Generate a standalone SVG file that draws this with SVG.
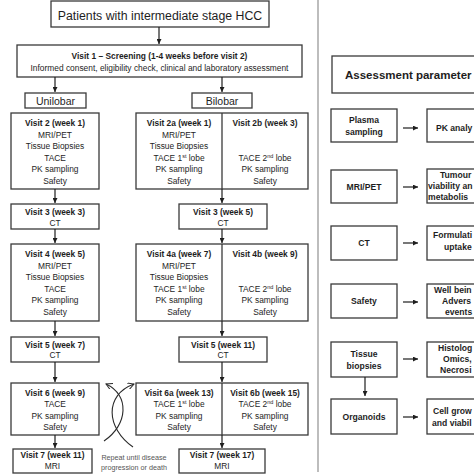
<svg xmlns="http://www.w3.org/2000/svg" width="474" height="474" viewBox="0 0 474 474">
<defs>
<style>
.box{fill:#fff;stroke:#3a3a3a;stroke-width:1.3}
.div{stroke:#3a3a3a;stroke-width:1.3}
.t{font-family:"Liberation Sans",Arial,sans-serif;font-size:8.4px;fill:#1e1e1e;text-anchor:middle}
.b{font-weight:bold}
.s{text-anchor:start}
.rp{font-size:8.6px;font-weight:bold}
.conn{stroke:#1e1e1e;stroke-width:1.2;fill:none}
.curve{stroke:#2a2a2a;stroke-width:1.1;fill:none}
</style>
<marker id="ah" viewBox="0 0 10 10" refX="10" refY="5" markerWidth="5" markerHeight="5" orient="auto" markerUnits="userSpaceOnUse">
<path d="M0,0 L10,5 L0,10 z" fill="#1e1e1e"/>
</marker>
<marker id="oh" viewBox="0 0 10 10" refX="9" refY="5" markerWidth="7" markerHeight="7" orient="auto" markerUnits="userSpaceOnUse">
<path d="M0,0 L9,5 L0,10" fill="none" stroke="#2a2a2a" stroke-width="1.4"/>
</marker>
</defs>
<rect width="474" height="474" fill="#fff"/>
<line x1="318" y1="0" x2="318" y2="472" stroke="#bdbdbd" stroke-width="2"/>

<g id="patients">
<rect class="box" x="51" y="1" width="218" height="26"/>
<text class="t" x="160" y="20" style="font-size:12.3px">Patients with intermediate stage HCC</text>
</g>
<g id="visit1">
<rect class="box" x="17" y="45" width="285" height="32"/>
<text class="t b" x="159.5" y="59">Visit 1 – Screening (1-4 weeks before visit 2)</text>
<text class="t" x="159.5" y="71">Informed consent, eligibility check, clinical and laboratory assessment</text>
</g>
<g id="unilobar">
<rect class="box" x="25" y="93" width="61" height="15"/>
<text class="t" x="55.5" y="104.5" style="font-size:10.5px">Unilobar</text>
</g>
<g id="bilobar">
<rect class="box" x="192" y="93" width="60" height="15"/>
<text class="t" x="222" y="104.5" style="font-size:10.5px">Bilobar</text>
</g>

<g id="u-visit2">
<rect class="box" x="11" y="113" width="88" height="76"/>
<text class="t b" x="55" y="126">Visit 2 (week 1)</text>
<text class="t" x="55" y="137.5">MRI/PET</text>
<text class="t" x="55" y="149">Tissue Biopsies</text>
<text class="t" x="55" y="160.5">TACE</text>
<text class="t" x="55" y="172">PK sampling</text>
<text class="t" x="55" y="183.5">Safety</text>
</g>
<g id="u-visit3">
<rect class="box" x="11" y="204" width="88" height="25"/>
<text class="t b" x="55" y="214.5">Visit 3 (week 3)</text>
<text class="t" x="55" y="226">CT</text>
</g>
<g id="u-visit4">
<rect class="box" x="11" y="244" width="88" height="77"/>
<text class="t b" x="55" y="257">Visit 4 (week 5)</text>
<text class="t" x="55" y="268.5">MRI/PET</text>
<text class="t" x="55" y="280">Tissue Biopsies</text>
<text class="t" x="55" y="291.5">TACE</text>
<text class="t" x="55" y="303">PK sampling</text>
<text class="t" x="55" y="314.5">Safety</text>
</g>
<g id="u-visit5">
<rect class="box" x="11" y="337" width="88" height="25"/>
<text class="t b" x="55" y="347.5">Visit 5 (week 7)</text>
<text class="t" x="55" y="358">CT</text>
</g>
<g id="u-visit6">
<rect class="box" x="11" y="383" width="88" height="52"/>
<text class="t b" x="55" y="395.5">Visit 6 (week 9)</text>
<text class="t" x="55" y="407">TACE</text>
<text class="t" x="55" y="418.5">PK sampling</text>
<text class="t" x="55" y="430">Safety</text>
</g>
<g id="u-visit7">
<rect class="box" x="13" y="449" width="79" height="24"/>
<text class="t b" x="52.5" y="458">Visit 7 (week 11)</text>
<text class="t" x="52.5" y="469">MRI</text>
</g>

<g id="b-visit2">
<rect class="box" x="136" y="113" width="172" height="76"/>
<line class="div" x1="222" y1="113" x2="222" y2="189"/>
<text class="t b" x="179" y="126">Visit 2a (week 1)</text>
<text class="t" x="179" y="137.5">MRI/PET</text>
<text class="t" x="179" y="149">Tissue Biopsies</text>
<text class="t" x="179" y="160.5">TACE 1<tspan font-size="5.5" dy="-3">st</tspan><tspan dy="3"> lobe</tspan></text>
<text class="t" x="179" y="172">PK sampling</text>
<text class="t" x="179" y="183.5">Safety</text>
<text class="t b" x="265" y="126">Visit 2b (week 3)</text>
<text class="t" x="265" y="160.5">TACE 2<tspan font-size="5.5" dy="-3">nd</tspan><tspan dy="3"> lobe</tspan></text>
<text class="t" x="265" y="172">PK sampling</text>
<text class="t" x="265" y="183.5">Safety</text>
</g>
<g id="b-visit3">
<rect class="box" x="179" y="204" width="88" height="25"/>
<text class="t b" x="223" y="214.5">Visit 3 (week 5)</text>
<text class="t" x="223" y="226">CT</text>
</g>
<g id="b-visit4">
<rect class="box" x="136" y="244" width="172" height="77"/>
<line class="div" x1="222" y1="244" x2="222" y2="321"/>
<text class="t b" x="179" y="257">Visit 4a (week 7)</text>
<text class="t" x="179" y="268.5">MRI/PET</text>
<text class="t" x="179" y="280">Tissue Biopsies</text>
<text class="t" x="179" y="291.5">TACE 1<tspan font-size="5.5" dy="-3">st</tspan><tspan dy="3"> lobe</tspan></text>
<text class="t" x="179" y="303">PK sampling</text>
<text class="t" x="179" y="314.5">Safety</text>
<text class="t b" x="265" y="257">Visit 4b (week 9)</text>
<text class="t" x="265" y="291.5">TACE 2<tspan font-size="5.5" dy="-3">nd</tspan><tspan dy="3"> lobe</tspan></text>
<text class="t" x="265" y="303">PK sampling</text>
<text class="t" x="265" y="314.5">Safety</text>
</g>
<g id="b-visit5">
<rect class="box" x="179" y="337" width="88" height="25"/>
<text class="t b" x="223" y="347.5">Visit 5 (week 11)</text>
<text class="t" x="223" y="358">CT</text>
</g>
<g id="b-visit6">
<rect class="box" x="136" y="383" width="172" height="52"/>
<line class="div" x1="222" y1="383" x2="222" y2="435"/>
<text class="t b" x="179" y="395.5">Visit 6a (week 13)</text>
<text class="t" x="179" y="407">TACE 1<tspan font-size="5.5" dy="-3">st</tspan><tspan dy="3"> lobe</tspan></text>
<text class="t" x="179" y="418.5">PK sampling</text>
<text class="t" x="179" y="430">Safety</text>
<text class="t b" x="265" y="395.5">Visit 6b (week 15)</text>
<text class="t" x="265" y="407">TACE 2<tspan font-size="5.5" dy="-3">nd</tspan><tspan dy="3"> lobe</tspan></text>
<text class="t" x="265" y="418.5">PK sampling</text>
<text class="t" x="265" y="430">Safety</text>
</g>
<g id="b-visit7">
<rect class="box" x="179" y="449" width="86" height="24"/>
<text class="t b" x="222" y="458">Visit 7 (week 17)</text>
<text class="t" x="222" y="469">MRI</text>
</g>

<g id="repeat">
<text class="t" x="134" y="460" style="font-size:7.2px;fill:#555">Repeat until disease</text>
<text class="t" x="134" y="470" style="font-size:7.2px;fill:#555">progression or death</text>
</g>

<g id="assessment">
<rect class="box" x="332" y="56" width="170" height="37"/>
<text class="t b s" x="345" y="79" style="font-size:11.5px">Assessment parameter</text>
</g>
<g id="a-plasma">
<rect class="box" x="331" y="109" width="66" height="33"/>
<text class="t rp" x="364" y="123">Plasma</text>
<text class="t rp" x="364" y="135">sampling</text>
</g>
<g id="r-pk">
<rect class="box" x="427" y="109" width="90" height="33"/>
<text class="t rp s" x="436" y="131">PK analy</text>
</g>
<g id="a-mri">
<rect class="box" x="331" y="170" width="66" height="33"/>
<text class="t rp" x="364" y="190">MRI/PET</text>
</g>
<g id="r-tumour">
<rect class="box" x="427" y="169" width="90" height="34"/>
<text class="t rp s" x="440" y="178">Tumour</text>
<text class="t rp s" x="428" y="189">viability an</text>
<text class="t rp s" x="428" y="200">metabolis</text>
</g>
<g id="a-ct">
<rect class="box" x="331" y="226" width="66" height="34"/>
<text class="t rp" x="364" y="246">CT</text>
</g>
<g id="r-form">
<rect class="box" x="427" y="226" width="90" height="34"/>
<text class="t rp s" x="433" y="238">Formulati</text>
<text class="t rp s" x="444" y="250">uptake</text>
</g>
<g id="a-safety">
<rect class="box" x="331" y="284" width="66" height="34"/>
<text class="t rp" x="364" y="304">Safety</text>
</g>
<g id="r-well">
<rect class="box" x="427" y="284" width="90" height="34"/>
<text class="t rp s" x="434" y="293">Well bein</text>
<text class="t rp s" x="442" y="304">Advers</text>
<text class="t rp s" x="445" y="315">events</text>
</g>
<g id="a-tissue">
<rect class="box" x="331" y="342" width="66" height="35"/>
<text class="t rp" x="364" y="357">Tissue</text>
<text class="t rp" x="364" y="369">biopsies</text>
</g>
<g id="r-hist">
<rect class="box" x="427" y="342" width="90" height="35"/>
<text class="t rp s" x="438" y="351">Histolog</text>
<text class="t rp s" x="443" y="362">Omics,</text>
<text class="t rp s" x="440" y="373">Necrosi</text>
</g>
<g id="a-organoids">
<rect class="box" x="331" y="399" width="66" height="35"/>
<text class="t rp" x="364" y="420">Organoids</text>
</g>
<g id="r-cell">
<rect class="box" x="427" y="399" width="90" height="35"/>
<text class="t rp s" x="433" y="414">Cell grow</text>
<text class="t rp s" x="432" y="426">and viabil</text>
</g>

<g id="connectors">
<line class="conn" x1="159" y1="27" x2="159" y2="44" marker-end="url(#ah)"/>
<line class="conn" x1="55" y1="77" x2="55" y2="92" marker-end="url(#ah)"/>
<line class="conn" x1="222" y1="77" x2="222" y2="92" marker-end="url(#ah)"/>
<line class="conn" x1="55" y1="189" x2="55" y2="203" marker-end="url(#ah)"/>
<line class="conn" x1="55" y1="229" x2="55" y2="243" marker-end="url(#ah)"/>
<line class="conn" x1="55" y1="321" x2="55" y2="336" marker-end="url(#ah)"/>
<line class="conn" x1="55" y1="362" x2="55" y2="382" marker-end="url(#ah)"/>
<line class="conn" x1="55" y1="435" x2="55" y2="448" marker-end="url(#ah)"/>
<line class="conn" x1="222" y1="189" x2="222" y2="203" marker-end="url(#ah)"/>
<line class="conn" x1="222" y1="229" x2="222" y2="243" marker-end="url(#ah)"/>
<line class="conn" x1="222" y1="321" x2="222" y2="336" marker-end="url(#ah)"/>
<line class="conn" x1="222" y1="362" x2="222" y2="382" marker-end="url(#ah)"/>
<line class="conn" x1="222" y1="435" x2="222" y2="448" marker-end="url(#ah)"/>
<line class="conn" x1="403" y1="128" x2="418" y2="128" marker-end="url(#ah)"/>
<line class="conn" x1="403" y1="187" x2="418" y2="187" marker-end="url(#ah)"/>
<line class="conn" x1="403" y1="243" x2="418" y2="243" marker-end="url(#ah)"/>
<line class="conn" x1="403" y1="302" x2="418" y2="302" marker-end="url(#ah)"/>
<line class="conn" x1="403" y1="359" x2="418" y2="359" marker-end="url(#ah)"/>
<line class="conn" x1="403" y1="417" x2="418" y2="417" marker-end="url(#ah)"/>
<line class="conn" x1="365" y1="377" x2="365" y2="396" marker-end="url(#ah)"/>
<path class="curve" d="M104,441 C128,425 130,395 106,384" marker-end="url(#oh)"/>
<path class="curve" d="M133,447 C106,428 104,395 134,384" marker-end="url(#oh)"/>
</g>
</svg>
